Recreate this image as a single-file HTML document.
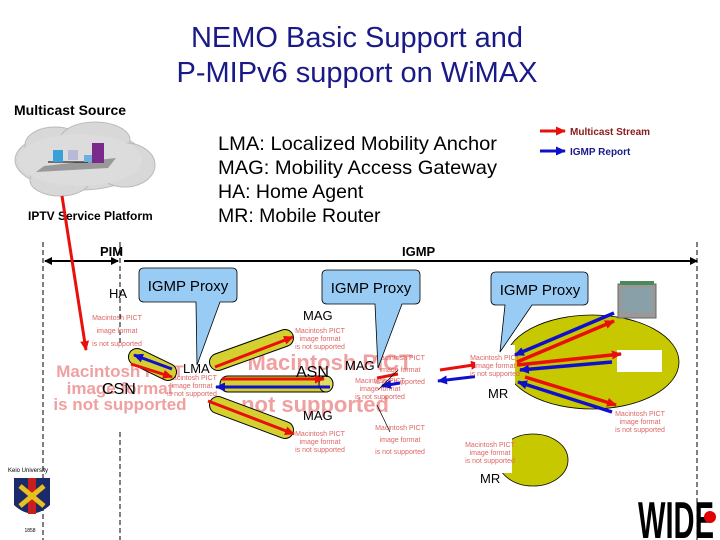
<!DOCTYPE html>
<html><head><meta charset="utf-8"><style>
html,body{margin:0;padding:0;background:#fff;}
svg{display:block;font-family:"Liberation Sans",Arial,sans-serif;}
</style></head><body>
<svg width="720" height="540" viewBox="0 0 720 540" xmlns="http://www.w3.org/2000/svg">
<defs>
<marker id="ar" markerWidth="10" markerHeight="9" refX="9" refY="4.5" orient="auto" markerUnits="userSpaceOnUse"><path d="M0,0 L10,4.5 L0,9z" fill="#e8100a"/></marker>
<marker id="ab" markerWidth="10" markerHeight="9" refX="9" refY="4.5" orient="auto" markerUnits="userSpaceOnUse"><path d="M0,0 L10,4.5 L0,9z" fill="#1010cc"/></marker>
<marker id="ak" markerWidth="8" markerHeight="8" refX="7" refY="4" orient="auto" markerUnits="userSpaceOnUse"><path d="M0,0 L8,4 L0,8z" fill="#000"/></marker>
</defs>
<text x="357" y="47" font-size="29" text-anchor="middle" fill="#1a1a86">NEMO Basic Support and</text>
<text x="357" y="82" font-size="29" text-anchor="middle" fill="#1a1a86">P-MIPv6 support on WiMAX</text>
<text x="14" y="115" font-size="14" font-weight="bold">Multicast Source</text>
<!-- cloud -->
<g fill="#d8d8d8" stroke="#bbb">
<ellipse cx="80" cy="160" rx="65" ry="30"/>
<ellipse cx="55" cy="145" rx="30" ry="18"/><ellipse cx="95" cy="140" rx="35" ry="18"/>
<ellipse cx="125" cy="165" rx="30" ry="22"/><ellipse cx="60" cy="180" rx="30" ry="16"/></g>
<ellipse cx="80" cy="160" rx="62" ry="26" fill="#dcdcdc"/>
<polygon points="36,172 108,168 116,158 44,166" fill="#999"/>
<line x1="48" y1="162" x2="88" y2="162" stroke="#000"/>
<rect x="53" y="150" width="10" height="12" fill="#3aa0d8"/><rect x="68" y="150" width="10" height="10" fill="#b8b8d8"/>
<rect x="84" y="155" width="8" height="7" fill="#6ab0e0"/><rect x="92" y="143" width="12" height="20" fill="#7a2a8a"/>
<text x="28" y="220" font-size="12" font-weight="bold">IPTV Service Platform</text>
<g font-size="19.5"><text x="218" y="150" textLength="279" lengthAdjust="spacingAndGlyphs">LMA: Localized Mobility Anchor</text>
<text x="218" y="174" textLength="279" lengthAdjust="spacingAndGlyphs">MAG: Mobility Access Gateway</text>
<text x="218" y="198">HA: Home Agent</text>
<text x="218" y="222">MR: Mobile Router</text></g>
<line x1="540" y1="131" x2="565" y2="131" stroke="#e8100a" stroke-width="3" marker-end="url(#ar)"/>
<text x="570" y="135" font-size="10" font-weight="bold" fill="#8b1a1a">Multicast Stream</text>
<line x1="540" y1="151" x2="565" y2="151" stroke="#1010cc" stroke-width="3" marker-end="url(#ab)"/>
<text x="570" y="155" font-size="10" font-weight="bold" fill="#1a1a8b">IGMP Report</text>
<!-- dashed -->
<g stroke="#000" stroke-dasharray="5,3"><line x1="43" y1="242" x2="43" y2="540"/><line x1="120" y1="242" x2="120" y2="345"/><line x1="120" y1="432" x2="120" y2="540"/><line x1="697" y1="242" x2="697" y2="540"/></g>
<text x="100" y="256" font-size="13" font-weight="bold">PIM</text>
<text x="402" y="256" font-size="13" font-weight="bold">IGMP</text>
<line x1="45" y1="261" x2="118" y2="261" stroke="#000" stroke-width="2" marker-end="url(#ak)"/>
<line x1="118" y1="261" x2="45" y2="261" stroke="#000" stroke-width="2" marker-end="url(#ak)"/>
<line x1="124" y1="261" x2="697" y2="261" stroke="#000" stroke-width="2" marker-end="url(#ak)"/>
<line x1="62" y1="196" x2="86" y2="350" stroke="#e8100a" stroke-width="3" marker-end="url(#ar)"/>
<!-- pict placeholders -->
<g fill="#f0a0a0" font-weight="bold" text-anchor="middle">
<text x="120" y="377" font-size="17">Macintosh PICT</text>
<text x="120" y="394" font-size="17">image format</text>
<text x="120" y="410" font-size="17">is not supported</text>
<text x="330" y="370" font-size="22">Macintosh PICT</text>
<text x="315" y="412" font-size="22">not supported</text></g>
<g fill="#dd6666" font-size="7" text-anchor="middle">
<text x="117" y="320">Macintosh PICT</text><text x="117" y="333">image format</text><text x="117" y="346">is not supported</text>
<text x="192" y="380">Macintosh PICT</text><text x="192" y="388">image format</text><text x="192" y="396">is not supported</text>
<text x="320" y="333">Macintosh PICT</text><text x="320" y="341">image format</text><text x="320" y="349">is not supported</text>
<text x="380" y="383">Macintosh PICT</text><text x="380" y="391">image format</text><text x="380" y="399">is not supported</text>
<text x="320" y="436">Macintosh PICT</text><text x="320" y="444">image format</text><text x="320" y="452">is not supported</text>
<text x="400" y="360">Macintosh PICT</text><text x="400" y="372">image format</text><text x="400" y="384">is not supported</text>
<text x="400" y="430">Macintosh PICT</text><text x="400" y="442">image format</text><text x="400" y="454">is not supported</text>
<text x="640" y="358">Macintosh PICT</text><text x="640" y="364">image format</text><text x="640" y="370">is not supported</text>
<text x="640" y="416">Macintosh PICT</text><text x="640" y="424">image format</text><text x="640" y="432">is not supported</text>
</g>
<!-- tubes -->
<g stroke-linecap="round">
<line x1="137" y1="357" x2="168" y2="372" stroke="#000" stroke-width="18"/><line x1="137" y1="357" x2="168" y2="372" stroke="#d4d030" stroke-width="16"/>
<line x1="218" y1="362" x2="285" y2="338" stroke="#000" stroke-width="18"/><line x1="218" y1="362" x2="285" y2="338" stroke="#d4d030" stroke-width="16"/>
<line x1="228" y1="384" x2="325" y2="384" stroke="#000" stroke-width="17"/><line x1="228" y1="384" x2="325" y2="384" stroke="#d4d030" stroke-width="15"/>
<line x1="218" y1="405" x2="285" y2="430" stroke="#000" stroke-width="18"/><line x1="218" y1="405" x2="285" y2="430" stroke="#d4d030" stroke-width="16"/>
</g>
<ellipse cx="326" cy="384" rx="7" ry="8" fill="#e0dc60" stroke="#000"/>
<line x1="172" y1="369" x2="134" y2="355" stroke="#1010cc" stroke-width="3" marker-end="url(#ab)"/>
<line x1="131" y1="364" x2="172" y2="377" stroke="#e8100a" stroke-width="3" marker-end="url(#ar)"/>
<line x1="215" y1="367" x2="293" y2="337" stroke="#e8100a" stroke-width="3" marker-end="url(#ar)"/>
<line x1="222" y1="379" x2="324" y2="379" stroke="#e8100a" stroke-width="3" marker-end="url(#ar)"/>
<line x1="330" y1="387" x2="216" y2="387" stroke="#1010cc" stroke-width="3" marker-end="url(#ab)"/>
<line x1="208" y1="401" x2="294" y2="434" stroke="#e8100a" stroke-width="3" marker-end="url(#ar)"/>
<line x1="377" y1="378" x2="398" y2="374" stroke="#e8100a" stroke-width="3"/>
<line x1="400" y1="383" x2="382" y2="386" stroke="#1010cc" stroke-width="3" marker-end="url(#ab)"/>
<line x1="378" y1="390" x2="398" y2="370" stroke="#000" stroke-width="0.7"/>
<line x1="377" y1="405" x2="390" y2="432" stroke="#000" stroke-width="0.7"/>
<line x1="440" y1="370" x2="480" y2="364" stroke="#e8100a" stroke-width="3" marker-end="url(#ar)"/>
<line x1="480" y1="376" x2="438" y2="381" stroke="#1010cc" stroke-width="3" marker-end="url(#ab)"/>
<!-- ellipses -->
<ellipse cx="592" cy="362" rx="87" ry="47" fill="#c8c800" stroke="#000" stroke-width="0.8"/>
<rect x="475" y="345" width="40" height="40" fill="#fff"/>
<g fill="#dd6666" font-size="7" text-anchor="middle"><text x="495" y="360">Macintosh PICT</text><text x="495" y="368">image format</text><text x="495" y="376">is not supported</text></g>
<ellipse cx="533" cy="460" rx="35" ry="26" fill="#c8c800" stroke="#000" stroke-width="0.8"/>
<rect x="467" y="438" width="45" height="35" fill="#fff"/>
<g fill="#dd6666" font-size="7" text-anchor="middle"><text x="490" y="447">Macintosh PICT</text><text x="490" y="455">image format</text><text x="490" y="463">is not supported</text></g>
<rect x="617" y="350" width="45" height="22" fill="#fff"/>
<g stroke-width="3.5">
<line x1="614" y1="313" x2="515" y2="355" stroke="#1010cc" marker-end="url(#ab)"/>
<line x1="517" y1="362" x2="614" y2="321" stroke="#e8100a" marker-end="url(#ar)"/>
<line x1="517" y1="365" x2="621" y2="354" stroke="#e8100a" marker-end="url(#ar)"/>
<line x1="612" y1="362" x2="520" y2="370" stroke="#1010cc" marker-end="url(#ab)"/>
<line x1="525" y1="377" x2="616" y2="405" stroke="#e8100a" marker-end="url(#ar)"/>
<line x1="612" y1="412" x2="518" y2="382" stroke="#1010cc" marker-end="url(#ab)"/>
</g>
<!-- monitor -->
<rect x="618" y="284" width="38" height="34" fill="#999" stroke="#666"/>
<rect x="622" y="288" width="30" height="24" fill="#8aa0a8"/>
<rect x="620" y="281" width="34" height="4" fill="#4a8a5a"/>
<!-- callouts -->
<g fill="#99ccf5" stroke="#000" stroke-width="0.8">
<path d="M144,268 H232 Q237,268 237,273 V297 Q237,302 232,302 H220 L197,365 L196,302 H144 Q139,302 139,297 V273 Q139,268 144,268Z"/>
<path d="M327,270 H415 Q420,270 420,275 V299 Q420,304 415,304 H402 L378,368 L375,304 H327 Q322,304 322,299 V275 Q322,270 327,270Z"/>
<path d="M496,272 H583 Q588,272 588,277 V300 Q588,305 583,305 H532 L500,352 L505,305 H496 Q491,305 491,300 V277 Q491,272 496,272Z"/>
</g>
<text x="188" y="291" font-size="15" text-anchor="middle">IGMP Proxy</text>
<text x="371" y="293" font-size="15" text-anchor="middle">IGMP Proxy</text>
<text x="540" y="295" font-size="15" text-anchor="middle">IGMP Proxy</text>
<g font-size="13"><text x="109" y="298">HA</text><text x="303" y="320">MAG</text><text x="183" y="373">LMA</text><text x="345" y="370">MAG</text><text x="303" y="420">MAG</text><text x="488" y="398">MR</text><text x="480" y="483">MR</text></g>
<text x="102" y="394" font-size="16">CSN</text>
<text x="296" y="377" font-size="16">ASN</text>
<!-- Keio -->
<text x="8" y="472" font-size="6">Keio University</text>
<path d="M14,478 H50 V505 Q32,522 14,505Z" fill="#1a2a6a"/>
<rect x="28" y="478" width="8" height="36" fill="#c81e1e"/>
<path d="M20,486 L44,506 M44,486 L20,506" stroke="#e8c020" stroke-width="5"/>
<text x="30" y="532" font-size="5" text-anchor="middle">1858</text>
<!-- WIDE -->
<text x="676" y="538" font-size="52" font-weight="bold" text-anchor="middle" textLength="76" lengthAdjust="spacingAndGlyphs" fill="#000">WIDE</text>
<circle cx="710" cy="517" r="6" fill="#e00000"/>
</svg>
</body></html>
